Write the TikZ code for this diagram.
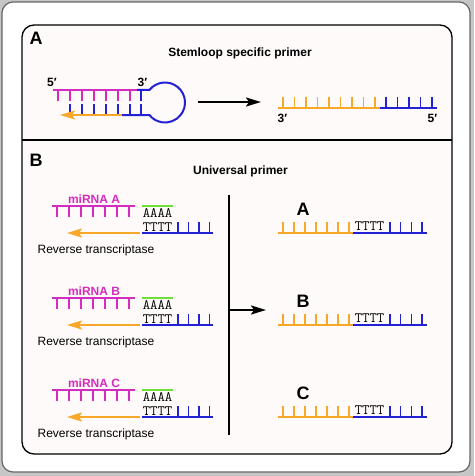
\documentclass[tikz,border=0pt]{standalone}
\usepackage{fontspec}
\setmainfont{Liberation Sans}
\usetikzlibrary{arrows.meta}

\definecolor{mirmag}{RGB}{212,44,190}
\definecolor{rtorange}{RGB}{247,168,41}
\definecolor{primblue}{RGB}{34,34,212}
\definecolor{tailgreen}{RGB}{112,222,56}
\definecolor{panelbg}{RGB}{255,250,250}

\begin{document}
\begin{tikzpicture}[x=1pt, y=-1pt]
    % Define styles
    \tikzset{
        strand/.style={
            line width=2pt
        },
        bond/.style={
            line width=1.2pt
        },
        rtarrow/.style={
            strand,
            rtorange,
            -{Stealth[length=15pt, width=9pt, inset=3pt]}
        },
        react/.style={
            line width=2pt,
            -{Stealth[length=15pt, width=9pt, inset=3pt]}
        },
        panel/.style={
            font=\fontsize{18}{20}\selectfont\bfseries,
            inner sep=0pt
        },
        heading/.style={
            font=\fontsize{12}{14}\selectfont\bfseries,
            inner sep=0pt
        },
        nucl/.style={
            font=\ttfamily\fontsize{14.3}{14}\selectfont,
            inner sep=0pt
        },
        enzyme/.style={
            font=\fontsize{12}{14}\selectfont,
            inner sep=0pt
        }
    }

    % Frame and panels
    \useasboundingbox (0,0) rectangle (474,476);
    \fill[gray!45] (0,0) rectangle (474,476);
    \draw[fill=white, draw=black!60, line width=1.2pt, rounded corners=11pt] (2,2) rectangle (470,472);
    \draw[fill=panelbg, line width=1.3pt, rounded corners=12pt] (22,25) rectangle (452,454);
    \draw[line width=1.3pt] (22,140) -- (452,140);

    % Panel A: stem-loop primer
    \node[panel, anchor=base] (labA) at (36,45) {A};
    \node[heading, anchor=base] (titA) at (240,57) {Stemloop specific primer};

    % miRNA bound to stem-loop
    \foreach \x in {58,70,...,130}
        \draw[bond, mirmag] (\x,90) -- (\x,101);
    \draw[bond, primblue] (141,90) -- (141,101);
    \foreach \x in {70,82,94,106,118,130,141}
        \draw[bond, primblue] (\x,104) -- (\x,115);
    \draw[strand, mirmag] (53,90) -- (137,90);
    \draw[strand, primblue] (137,90) -- (149.4,90)
        arc[start angle=218.7, end angle=501.3, radius=20] -- (122,115);
    \draw[rtarrow] (122,115) -- (60,115);
    \node[heading, anchor=base] (fiveA) at (52,87) {5′};
    \node[heading, anchor=base] (threeA) at (142.5,87) {3′};

    \coordinate (stemS) at (198,102);
    \coordinate (stemE) at (261,102);
    \draw[react] (stemS) -- (stemE);

    % cDNA product
    \foreach \i in {0,...,8}
        \draw[bond, rtorange] ({283+11.5*\i},97) -- ({283+11.5*\i},108);
    \foreach \i in {0,...,4}
        \draw[bond, primblue] ({386+11.5*\i},97) -- ({386+11.5*\i},108);
    \draw[strand, rtorange] (278,108) -- (380,108);
    \draw[strand, primblue] (380,108) -- (437,108);
    \node[heading, anchor=base] (threeP) at (282.5,123) {3′};
    \node[heading, anchor=base] (fiveP) at (432.5,123) {5′};

    % Panel B: universal primer
    \node[panel, anchor=base] (labB) at (36,166) {B};
    \node[heading, anchor=base] (titB) at (240.5,174) {Universal primer};
    \coordinate (divT) at (229,195);
    \coordinate (divB) at (229,435);
    \draw[line width=2pt] (divT) -- (divB);
    \coordinate (uniS) at (229,310);
    \coordinate (uniE) at (266,310);
    \draw[react] (uniS) -- (uniE);

    % Row A
    \begin{scope}[shift={(0,0)}]
        \node[heading, mirmag, anchor=base] (mirA) at (94,203) {miRNA A};
        \foreach \x in {57,69,...,129}
            \draw[bond, mirmag] (\x,206) -- (\x,217);
        \draw[strand, mirmag] (52,206) -- (135,206);
        \draw[strand, tailgreen] (142,206) -- (173,206);
        \node[nucl, anchor=base] (polyA) at (157.5,217.5) {AAAA};
        \node[nucl, anchor=base] (oligoA) at (157.5,231) {TTTT};
        \foreach \x in {178,188.5,199,209.5}
            \draw[bond, primblue] (\x,222) -- (\x,233);
        \draw[strand, primblue] (142,233) -- (213,233);
        \draw[rtarrow] (140,233) -- (67,233);
        \node[enzyme, anchor=base] (enzA) at (96,253) {Reverse transcriptase};
        \node[panel, anchor=base] (prodA) at (303,215) {A};
        \foreach \x in {283,294,...,349}
            \draw[bond, rtorange] (\x,222) -- (\x,233);
        \draw[strand, rtorange] (278,233) -- (353,233);
        \node[nucl, anchor=base] (tailA) at (369.5,230) {TTTT};
        \foreach \x in {390,400.7,411.4,422}
            \draw[bond, primblue] (\x,222) -- (\x,233);
        \draw[strand, primblue] (353,233) -- (427,233);
    \end{scope}

    % Row B
    \begin{scope}[shift={(0,92)}]
        \node[heading, mirmag, anchor=base] (mirB) at (94,203) {miRNA B};
        \foreach \x in {57,69,...,129}
            \draw[bond, mirmag] (\x,206) -- (\x,217);
        \draw[strand, mirmag] (52,206) -- (135,206);
        \draw[strand, tailgreen] (142,206) -- (173,206);
        \node[nucl, anchor=base] (polyB) at (157.5,217.5) {AAAA};
        \node[nucl, anchor=base] (oligoB) at (157.5,231) {TTTT};
        \foreach \x in {178,188.5,199,209.5}
            \draw[bond, primblue] (\x,222) -- (\x,233);
        \draw[strand, primblue] (142,233) -- (213,233);
        \draw[rtarrow] (140,233) -- (67,233);
        \node[enzyme, anchor=base] (enzB) at (96,253) {Reverse transcriptase};
        \node[panel, anchor=base] (prodB) at (303,215) {B};
        \foreach \x in {283,294,...,349}
            \draw[bond, rtorange] (\x,222) -- (\x,233);
        \draw[strand, rtorange] (278,233) -- (353,233);
        \node[nucl, anchor=base] (tailB) at (369.5,230) {TTTT};
        \foreach \x in {390,400.7,411.4,422}
            \draw[bond, primblue] (\x,222) -- (\x,233);
        \draw[strand, primblue] (353,233) -- (427,233);
    \end{scope}

    % Row C
    \begin{scope}[shift={(0,184)}]
        \node[heading, mirmag, anchor=base] (mirC) at (94,203) {miRNA C};
        \foreach \x in {57,69,...,129}
            \draw[bond, mirmag] (\x,206) -- (\x,217);
        \draw[strand, mirmag] (52,206) -- (135,206);
        \draw[strand, tailgreen] (142,206) -- (173,206);
        \node[nucl, anchor=base] (polyC) at (157.5,217.5) {AAAA};
        \node[nucl, anchor=base] (oligoC) at (157.5,231) {TTTT};
        \foreach \x in {178,188.5,199,209.5}
            \draw[bond, primblue] (\x,222) -- (\x,233);
        \draw[strand, primblue] (142,233) -- (213,233);
        \draw[rtarrow] (140,233) -- (67,233);
        \node[enzyme, anchor=base] (enzC) at (96,253) {Reverse transcriptase};
        \node[panel, anchor=base] (prodC) at (303,215) {C};
        \foreach \x in {283,294,...,349}
            \draw[bond, rtorange] (\x,222) -- (\x,233);
        \draw[strand, rtorange] (278,233) -- (353,233);
        \node[nucl, anchor=base] (tailC) at (369.5,230) {TTTT};
        \foreach \x in {390,400.7,411.4,422}
            \draw[bond, primblue] (\x,222) -- (\x,233);
        \draw[strand, primblue] (353,233) -- (427,233);
    \end{scope}

\end{tikzpicture}
\end{document}
